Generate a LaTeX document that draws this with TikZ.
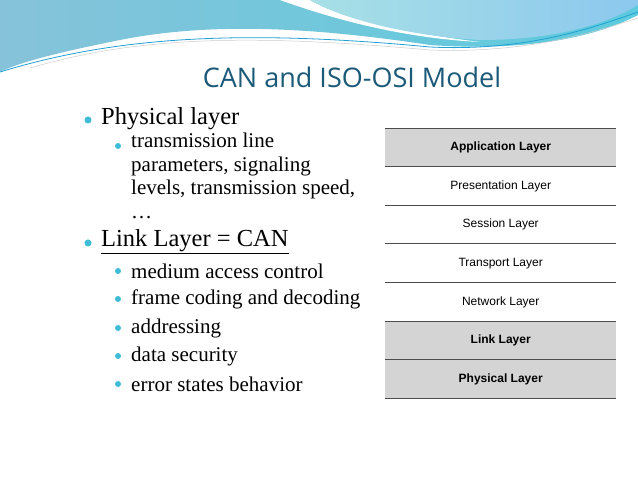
\documentclass[tikz,border=0pt]{standalone}
\usepackage{fontspec}
\setmainfont{Liberation Serif}
\newfontfamily\titlefont{Open Sans}
\newfontfamily\tabfont{Liberation Sans}
\definecolor{wavea}{HTML}{86C3DA}
\definecolor{waveb}{HTML}{5CCBDD}
\definecolor{wavec}{HTML}{A8E0E6}
\definecolor{waved}{HTML}{8CC8EE}
\definecolor{titlec}{HTML}{1B5A78}
\definecolor{dotc}{HTML}{3FBCD8}
\begin{document}
\begin{tikzpicture}[x=1pt,y=-1pt,
  bul/.style={anchor=west,font=\fontsize{24.5}{27}\selectfont,inner sep=0pt},
  sub/.style={anchor=west,font=\fontsize{21}{23.5}\selectfont,inner sep=0pt,align=left},
  dot/.style={circle,fill=dotc,inner sep=0pt,minimum size=#1},
  row/.style={minimum width=231pt,minimum height=38.6pt,inner sep=0pt,font=\tabfont\fontsize{12}{14}\selectfont,anchor=north west}]
\useasboundingbox (0,0) rectangle (638,478);
\fill[white] (0,0) rectangle (638,478);
% wave
\shade[left color=wavea,right color=waveb] (0,0) -- (638,0) -- (638,15) .. controls (580,45) and (500,50) .. (430,45) .. controls (330,30) and (220,20) .. (120,40) .. controls (60,52) and (20,62) .. (0,72) -- cycle;
\fill[white] (280,0) .. controls (330,18) and (400,38) .. (480,42) .. controls (400,32) and (340,18) .. (310,0) -- cycle;
\shade[left color=wavec,right color=waved] (310,0) .. controls (345,20) and (410,36) .. (480,40) .. controls (560,40) and (610,22) .. (638,5) -- (638,0) -- cycle;
\draw[cyan!70!teal,line width=0.8pt] (0,72) .. controls (120,35) and (250,30) .. (430,47) .. controls (530,52) and (600,25) .. (638,12);
\draw[gray!40,line width=0.5pt] (30,68) .. controls (140,36) and (250,34) .. (430,50) .. controls (530,54) and (600,30) .. (638,18);
\node[font=\titlefont\fontsize{27}{30}\selectfont,text=titlec] (title) at (352,77) {CAN and ISO-OSI Model};
% bullets
\node[dot=7pt] (d1) at (88,120) {};
\node[bul] (t1) at (101,119) {Physical layer};
\node[dot=6pt] (d2) at (118,146) {};
\node[sub,anchor=north west] (t2) at (131,133) {transmission line\\parameters, signaling\\levels, transmission speed,\\\ldots};
\node[dot=7pt] (d3) at (88,243) {};
\node[bul] (t3) at (101,242) {\underline{Link Layer = CAN}};
\foreach \y/\t [count=\i] in {271/medium access control,299/frame coding and decoding,328/addressing,356/data security,384/error states behavior}{
  \node[dot=6pt] (e\i) at (118,\y) {};
  \node[sub] (s\i) at (131,\y) {\t};
}
% table
\fill[white] (373,110) rectangle (630,413);
\foreach \t/\f/\b [count=\i] in {Application Layer/1/1,Presentation Layer/0/0,Session Layer/0/0,Transport Layer/0/0,Network Layer/0/0,Link Layer/1/1,Physical Layer/1/1}{
  \ifnum\f=1 \fill[black!17] (385,{128+(\i-1)*38.6}) rectangle (616,{128+\i*38.6});\fi
  \node[row] (r\i) at (385,{128+(\i-1)*38.6}) {\ifnum\b=1 \bfseries\fi\t};
  \draw[black!70,line width=0.6pt] (385,{128+(\i-1)*38.6}) -- (616,{128+(\i-1)*38.6});
}
\draw[black!70,line width=0.6pt] (385,398.2) -- (616,398.2);
\end{tikzpicture}
\end{document}
